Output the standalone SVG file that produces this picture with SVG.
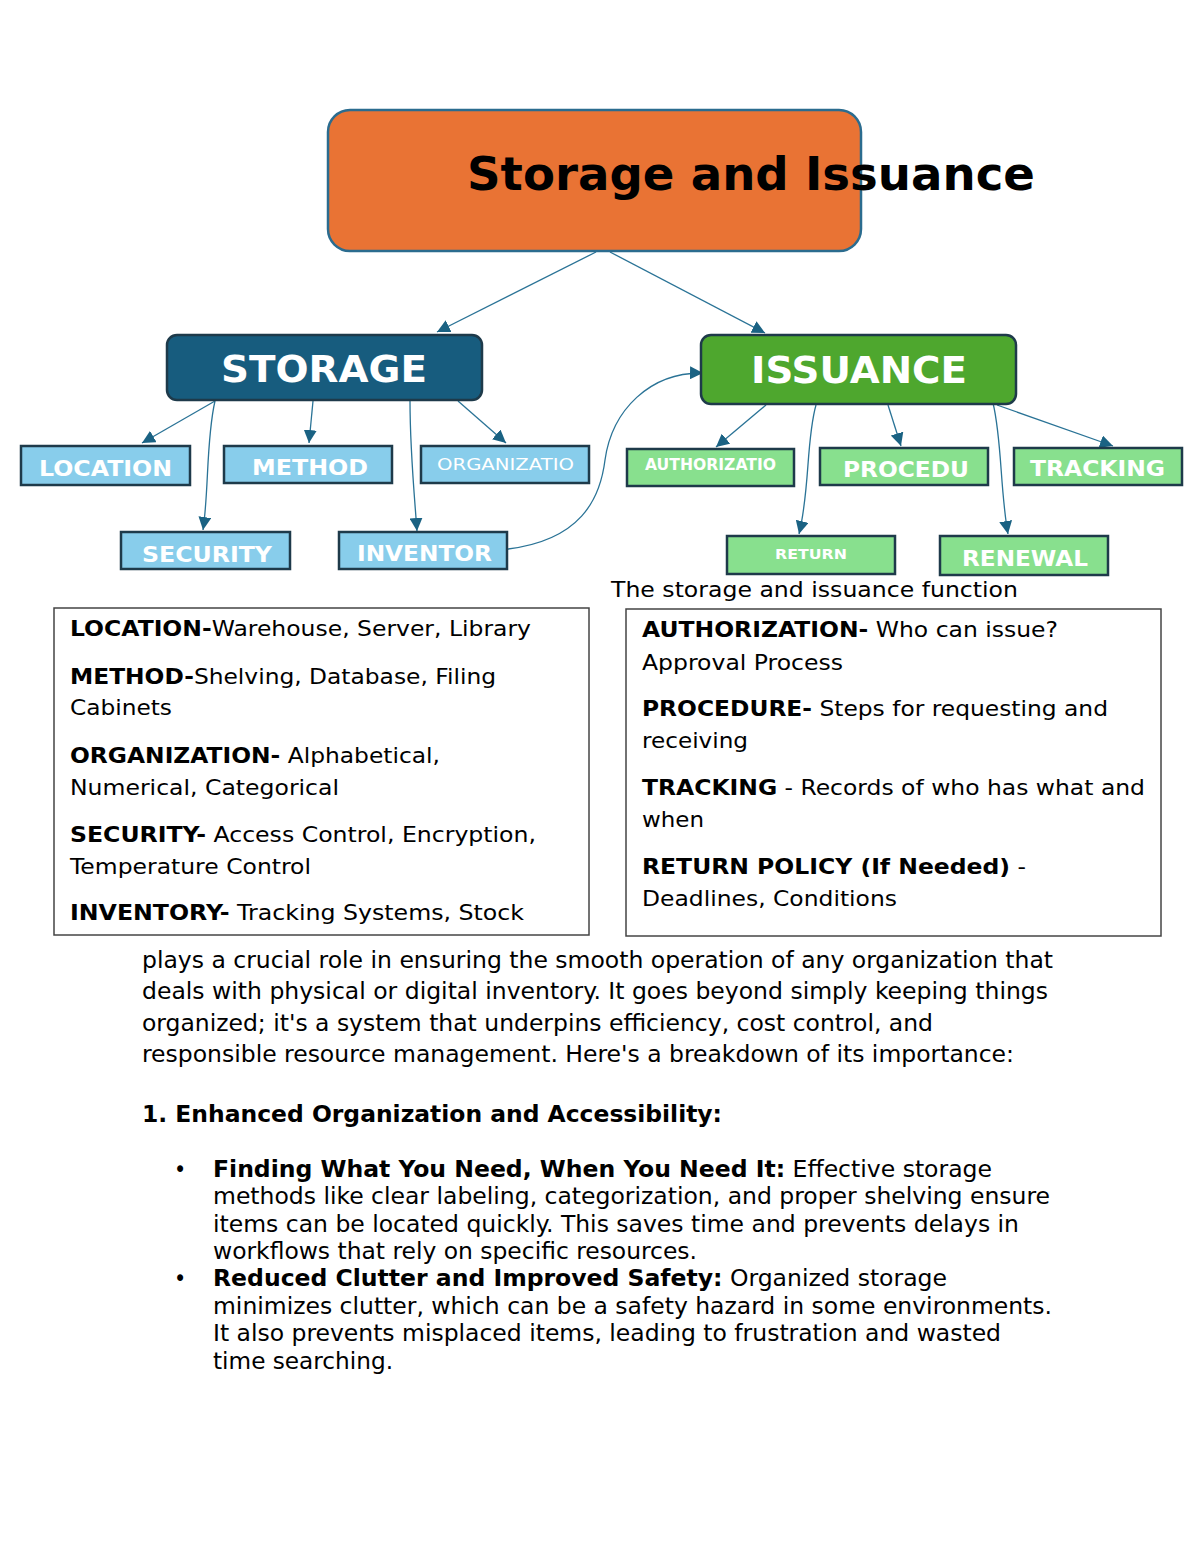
<svg xmlns="http://www.w3.org/2000/svg" width="1200" height="1553" viewBox="0 0 1200 1553">
<defs>
<marker id="arr" viewBox="0 0 10 10" refX="10" refY="5" markerWidth="13" markerHeight="13" markerUnits="userSpaceOnUse" orient="auto">
<path d="M0,0 L10,5 L0,10 z" fill="#1A6283"/>
</marker>
<style>
.bg{fill:#ffffff}
.conn{fill:none;stroke:#2A7396;stroke-width:1.3;marker-end:url(#arr)}
.child-s{fill:#88CDEB;stroke:#1E3A4A;stroke-width:2.5}
.child-i{fill:#88E08E;stroke:#1E3A4A;stroke-width:2.5}
.lbl{font-family:"DejaVu Sans","Liberation Sans",sans-serif;font-weight:bold;fill:#ffffff;text-anchor:start}
.txt{font-family:"DejaVu Sans","Liberation Sans",sans-serif;font-size:22px;fill:#000000}
.cond{font-family:"DejaVu Sans Condensed","DejaVu Sans","Liberation Sans",sans-serif;font-size:23px;fill:#000000}
.b{font-weight:bold}
.box{fill:#ffffff;stroke:#444444;stroke-width:1.5}
</style>
</defs>
<rect class="bg" x="0" y="0" width="1200" height="1553"/>

<g id="connectors">
<path class="conn" d="M596,252 L437,332"/>
<path class="conn" d="M610,252 L765,333"/>
<path class="conn" d="M215,401 L142,443"/>
<path class="conn" d="M215,401 C206,440 209,490 203,530"/>
<path class="conn" d="M313,401 L309,443"/>
<path class="conn" d="M410,401 C410,450 414,490 417,531"/>
<path class="conn" d="M458,401 L506,443"/>
<path class="conn" d="M508,549 C580,540 600,500 605,460 C612,410 650,372 703,373"/>
<path class="conn" d="M766,405 L716,447"/>
<path class="conn" d="M816,405 C806,440 810,490 799,534"/>
<path class="conn" d="M888,405 L901,446"/>
<path class="conn" d="M993,403 C1002,440 1000,490 1008,534"/>
<path class="conn" d="M997,405 L1113,446"/>
</g>

<g id="title">
<rect x="328" y="110" width="533" height="141" rx="22" fill="#E97334" stroke="#2B6C8F" stroke-width="2.5"/>
<text x="467" y="190" font-family="DejaVu Sans, Liberation Sans, sans-serif" font-weight="bold" font-size="47" fill="#000" textLength="568" lengthAdjust="spacingAndGlyphs">Storage and Issuance</text>
</g>

<g id="storage">
<rect x="167" y="335" width="315" height="65" rx="10" fill="#175C7E" stroke="#1E3A4A" stroke-width="2.5"/>
<text class="lbl" x="221" y="382" font-size="38" textLength="206" lengthAdjust="spacingAndGlyphs">STORAGE</text>
</g>

<g id="issuance">
<rect x="701" y="335" width="315" height="69" rx="10" fill="#4EA72E" stroke="#1E3A4A" stroke-width="2.5"/>
<text class="lbl" x="751" y="383" font-size="38" textLength="216" lengthAdjust="spacingAndGlyphs">ISSUANCE</text>
</g>

<g id="location">
<rect class="child-s" x="21" y="446" width="169" height="39"/>
<text class="lbl" x="39" y="476" font-size="22" textLength="133" lengthAdjust="spacingAndGlyphs">LOCATION</text>
</g>
<g id="method">
<rect class="child-s" x="224" y="446" width="168" height="37"/>
<text class="lbl" x="252" y="475" font-size="22" textLength="116" lengthAdjust="spacingAndGlyphs">METHOD</text>
</g>
<g id="organizatio">
<rect class="child-s" x="421" y="446" width="168" height="37"/>
<text class="lbl" x="437" y="470" font-size="16" textLength="137" lengthAdjust="spacingAndGlyphs" style="font-weight:normal">ORGANIZATIO</text>
</g>
<g id="security">
<rect class="child-s" x="121" y="532" width="169" height="37"/>
<text class="lbl" x="142" y="562" font-size="22" textLength="130" lengthAdjust="spacingAndGlyphs">SECURITY</text>
</g>
<g id="inventor">
<rect class="child-s" x="339" y="532" width="168" height="37"/>
<text class="lbl" x="357" y="561" font-size="22" textLength="135" lengthAdjust="spacingAndGlyphs">INVENTOR</text>
</g>

<g id="authorizatio">
<rect class="child-i" x="627" y="449" width="167" height="37"/>
<text class="lbl" x="645" y="470" font-size="15" textLength="131" lengthAdjust="spacingAndGlyphs">AUTHORIZATIO</text>
</g>
<g id="procedu">
<rect class="child-i" x="820" y="448" width="168" height="37"/>
<text class="lbl" x="843" y="477" font-size="22" textLength="126" lengthAdjust="spacingAndGlyphs">PROCEDU</text>
</g>
<g id="tracking">
<rect class="child-i" x="1014" y="448" width="168" height="37"/>
<text class="lbl" x="1030" y="476" font-size="22" textLength="135" lengthAdjust="spacingAndGlyphs">TRACKING</text>
</g>
<g id="return">
<rect class="child-i" x="727" y="536" width="168" height="38"/>
<text class="lbl" x="775" y="559" font-size="14" textLength="72" lengthAdjust="spacingAndGlyphs">RETURN</text>
</g>
<g id="renewal">
<rect class="child-i" x="940" y="536" width="168" height="39"/>
<text class="lbl" x="962" y="566" font-size="22" textLength="126" lengthAdjust="spacingAndGlyphs">RENEWAL</text>
</g>

<text class="txt" x="611" y="597" textLength="407" lengthAdjust="spacingAndGlyphs">The storage and issuance function</text>

<g id="storage-details">
<rect class="box" x="54" y="608" width="535" height="327"/>
<text class="txt" x="70" y="636" textLength="461" lengthAdjust="spacingAndGlyphs"><tspan class="b">LOCATION-</tspan>Warehouse, Server, Library</text>
<text class="txt" x="70" y="684" textLength="426" lengthAdjust="spacingAndGlyphs"><tspan class="b">METHOD-</tspan>Shelving, Database, Filing</text>
<text class="txt" x="70" y="715" textLength="102" lengthAdjust="spacingAndGlyphs">Cabinets</text>
<text class="txt" x="70" y="763" textLength="370" lengthAdjust="spacingAndGlyphs"><tspan class="b">ORGANIZATION-</tspan> Alphabetical,</text>
<text class="txt" x="70" y="795" textLength="269" lengthAdjust="spacingAndGlyphs">Numerical, Categorical</text>
<text class="txt" x="70" y="842" textLength="466" lengthAdjust="spacingAndGlyphs"><tspan class="b">SECURITY-</tspan> Access Control, Encryption,</text>
<text class="txt" x="70" y="874" textLength="241" lengthAdjust="spacingAndGlyphs">Temperature Control</text>
<text class="txt" x="70" y="920" textLength="454" lengthAdjust="spacingAndGlyphs"><tspan class="b">INVENTORY-</tspan> Tracking Systems, Stock</text>
</g>

<g id="issuance-details">
<rect class="box" x="626" y="609" width="535" height="327"/>
<text class="txt" x="642" y="637" textLength="416" lengthAdjust="spacingAndGlyphs"><tspan class="b">AUTHORIZATION-</tspan> Who can issue?</text>
<text class="txt" x="642" y="670" textLength="201" lengthAdjust="spacingAndGlyphs">Approval Process</text>
<text class="txt" x="642" y="716" textLength="466" lengthAdjust="spacingAndGlyphs"><tspan class="b">PROCEDURE-</tspan> Steps for requesting and</text>
<text class="txt" x="642" y="748" textLength="106" lengthAdjust="spacingAndGlyphs">receiving</text>
<text class="txt" x="642" y="795" textLength="503" lengthAdjust="spacingAndGlyphs"><tspan class="b">TRACKING</tspan> - Records of who has what and</text>
<text class="txt" x="642" y="827" textLength="62" lengthAdjust="spacingAndGlyphs">when</text>
<text class="txt" x="642" y="874" textLength="384" lengthAdjust="spacingAndGlyphs"><tspan class="b">RETURN POLICY (If Needed)</tspan> -</text>
<text class="txt" x="642" y="906" textLength="255" lengthAdjust="spacingAndGlyphs">Deadlines, Conditions</text>
</g>

<g id="body-text">
<text class="cond" x="142" y="968" textLength="911" lengthAdjust="spacingAndGlyphs">plays a crucial role in ensuring the smooth operation of any organization that</text>
<text class="cond" x="142" y="999" textLength="906" lengthAdjust="spacingAndGlyphs">deals with physical or digital inventory. It goes beyond simply keeping things</text>
<text class="cond" x="142" y="1031" textLength="791" lengthAdjust="spacingAndGlyphs">organized; it's a system that underpins efficiency, cost control, and</text>
<text class="cond" x="142" y="1062" textLength="872" lengthAdjust="spacingAndGlyphs">responsible resource management. Here's a breakdown of its importance:</text>
<text class="cond b" x="142" y="1122" textLength="580" lengthAdjust="spacingAndGlyphs">1. Enhanced Organization and Accessibility:</text>

<text class="cond" x="174" y="1177">•</text>
<text class="cond" x="213" y="1177" font-size="22" textLength="779" lengthAdjust="spacingAndGlyphs"><tspan class="b">Finding What You Need, When You Need It:</tspan> Effective storage</text>
<text class="cond" x="213" y="1204" font-size="22" textLength="837" lengthAdjust="spacingAndGlyphs">methods like clear labeling, categorization, and proper shelving ensure</text>
<text class="cond" x="213" y="1232" font-size="22" textLength="806" lengthAdjust="spacingAndGlyphs">items can be located quickly. This saves time and prevents delays in</text>
<text class="cond" x="213" y="1259" font-size="22" textLength="484" lengthAdjust="spacingAndGlyphs">workflows that rely on specific resources.</text>
<text class="cond" x="174" y="1286">•</text>
<text class="cond" x="213" y="1286" font-size="22" textLength="734" lengthAdjust="spacingAndGlyphs"><tspan class="b">Reduced Clutter and Improved Safety:</tspan> Organized storage</text>
<text class="cond" x="213" y="1314" font-size="22" textLength="839" lengthAdjust="spacingAndGlyphs">minimizes clutter, which can be a safety hazard in some environments.</text>
<text class="cond" x="213" y="1341" font-size="22" textLength="788" lengthAdjust="spacingAndGlyphs">It also prevents misplaced items, leading to frustration and wasted</text>
<text class="cond" x="213" y="1369" font-size="22" textLength="180" lengthAdjust="spacingAndGlyphs">time searching.</text>
</g>
</svg>
